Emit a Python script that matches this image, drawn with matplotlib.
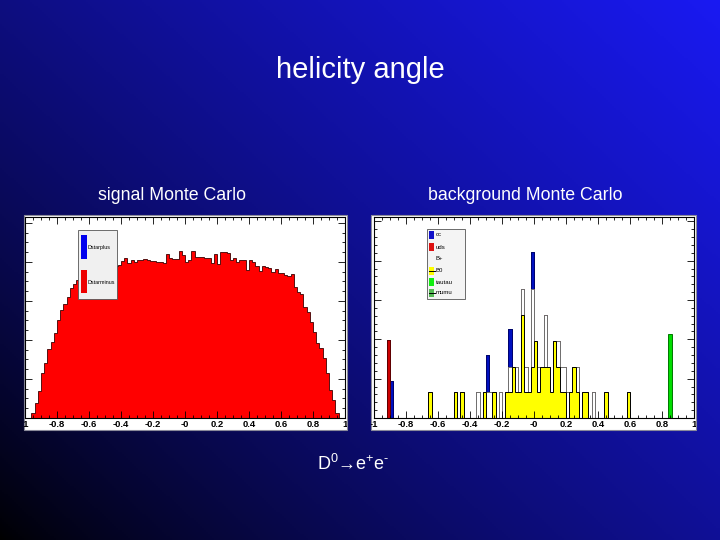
import numpy as np
import matplotlib
matplotlib.use("Agg")
import matplotlib.pyplot as plt
from matplotlib.patches import Rectangle
from matplotlib.lines import Line2D
from matplotlib.ticker import FixedLocator, FixedFormatter, MultipleLocator, NullFormatter
from matplotlib.transforms import Bbox, TransformedBbox

plt.rcParams['font.family'] = ['Liberation Sans', 'DejaVu Sans']
plt.rcParams['mathtext.fontset'] = 'custom'
plt.rcParams['mathtext.rm'] = 'Liberation Sans'
plt.rcParams['mathtext.it'] = 'Liberation Sans:italic'
plt.rcParams['mathtext.bf'] = 'Liberation Sans:bold'

# ---------------- data ----------------
title_text = "helicity angle"
left_title = "signal Monte Carlo"
right_title = "background Monte Carlo"
footer_text = r"D$^{0}$→e$^{+}$e$^{\text{-}}$"

x_ticks = [-1, -0.8, -0.6, -0.4, -0.2, 0, 0.2, 0.4, 0.6, 0.8, 1]
x_tick_labels = ["-1", "-0.8", "-0.6", "-0.4", "-0.2", "-0", "0.2", "0.4", "0.6", "0.8", "1"]

n_bins = 100
angle_range = (-1.0, 1.0)

# signal MC (D*minus), 100 bins of 0.02 from -1 to 1
signal_counts = [
    0, 0, 128, 384, 691, 1152, 1408, 1766, 1946, 2176,
    2509, 2765, 2918, 3098, 3328, 3430, 3533, 3584, 3635, 3686,
    3712, 3763, 3789, 3814, 3840, 3866, 3891, 3891, 3891, 3917,
    4019, 4096, 3968, 4045, 3994, 4045, 4045, 4070, 4045, 4019,
    4019, 3994, 3994, 3968, 4198, 4096, 4070, 4070, 4275, 4173,
    3994, 4045, 4275, 4122, 4122, 4122, 4096, 4096, 3968, 4198,
    3942, 4250, 4250, 4224, 4045, 4096, 3994, 4045, 4045, 3789,
    4045, 3994, 3891, 3763, 3891, 3866, 3840, 3738, 3814, 3712,
    3712, 3661, 3635, 3686, 3354, 3226, 3174, 2842, 2714, 2458,
    2202, 1920, 1792, 1536, 1152, 717, 461, 128, 0, 0]
signal_ymax = 5150

# background MC: bin centres and entries per sample
bg_angle = [-0.91, -0.89, -0.65, -0.49, -0.45, -0.35, -0.31, -0.29, -0.27, -0.25,
            -0.21, -0.17, -0.15, -0.13, -0.11, -0.09, -0.07, -0.05, -0.03, -0.01,
            0.01, 0.03, 0.05, 0.07, 0.09, 0.11, 0.13, 0.15, 0.17, 0.19,
            0.21, 0.23, 0.25, 0.27, 0.31, 0.33, 0.37, 0.45, 0.59, 0.85]
n_b0 = [0, 0, 1, 1, 1, 0, 1, 0, 0, 1,
        0, 1, 1, 2, 1, 1, 4, 1, 1, 2,
        3, 1, 2, 2, 2, 1, 3, 2, 1, 1,
        0, 1, 2, 1, 1, 1, 0, 1, 1, 0]
n_bplus = [0, 0, 0, 0, 0, 1, 0, 1, 1, 0,
           1, 0, 1, 0, 1, 0, 1, 1, 0, 3,
           0, 1, 0, 2, 0, 0, 0, 1, 1, 1,
           1, 0, 0, 1, 0, 0, 1, 0, 0, 0]
n_cc = [0, 1, 0, 0, 0, 0, 0, 1, 0, 0,
        0, 0, 1, 0, 0, 0, 0, 0, 0, 1,
        0, 0, 0, 0, 0, 0, 0, 0, 0, 0,
        0, 0, 0, 0, 0, 0, 0, 0, 0, 0]
n_uds = [1, 0, 0, 0, 0, 0, 0, 0, 0, 0,
         0, 0, 0, 0, 0, 0, 0, 0, 0, 0,
         0, 0, 0, 0, 0, 0, 0, 0, 0, 0,
         0, 0, 0, 0, 0, 0, 0, 0, 0, 0]
n_tautau = [0, 0, 0, 0, 0, 0, 0, 0, 0, 0,
            0, 0, 0, 0, 0, 0, 0, 0, 0, 0,
            0, 0, 0, 0, 0, 0, 0, 0, 0, 0,
            0, 0, 0, 0, 0, 0, 0, 0, 0, 1]
w_b0, w_bplus, w_cc, w_uds, w_tautau = 0.654, 0.654, 0.948, 1.99, 2.14
bg_ymax = 5.11

bg_legend = ["cc", "uds", "B+", "B0", "tautau", "mumu"]
sig_legend = ["Dstarplus", "Dstarminus"]

# ---------------- figure ----------------
W, H = 720, 540
fig = plt.figure(figsize=(7.2, 5.4), dpi=100)

def fx(px):
    return px / W

def fy(py):
    return 1 - py / H

# gradient background
bg_ax = fig.add_axes([0, 0, 1, 1], zorder=-10)
gx, gy = np.meshgrid(np.linspace(0, 1, 360), np.linspace(0, 1, 270))
t = np.clip(0.55 * gx + 0.45 * (1 - gy), 0, 1) ** 0.8
img = np.zeros(gx.shape + (3,))
img[..., 0] = 0.10 * t
img[..., 1] = 0.10 * t
img[..., 2] = 0.95 * t
bg_ax.imshow(img, extent=[0, 1, 0, 1], aspect='auto', origin='upper')
bg_ax.axis('off')

fig.text(fx(360), fy(70), title_text, color='white', fontsize=21, ha='center', va='center')
fig.text(fx(171.5), fy(195), left_title, color='white', fontsize=12.8, ha='center', va='center')
fig.text(fx(525), fy(195), right_title, color='white', fontsize=12.8, ha='center', va='center')
fig.text(fx(353), fy(464), footer_text, color='white', fontsize=13, ha='center', va='center')

edges = np.linspace(angle_range[0], angle_range[1], n_bins + 1)


def make_pad(x0, x1, y0, y1):
    r = Rectangle((fx(x0), fy(y1)), fx(x1) - fx(x0), fy(y0) - fy(y1),
                  transform=fig.transFigure, facecolor='white', edgecolor='#8a8a9a',
                  linewidth=0.8, zorder=-5)
    fig.patches.append(r)
    return TransformedBbox(Bbox.from_extents(fx(x0), fy(y1), fx(x1), fy(y0)), fig.transFigure)


def style_axes(ax, clipbox, ymax, ymajor, yminor):
    ax.set_facecolor('white')
    ax.set_xlim(-1, 1)
    ax.set_ylim(0, ymax)
    ax.xaxis.set_major_locator(FixedLocator(x_ticks))
    ax.xaxis.set_major_formatter(FixedFormatter(x_tick_labels))
    ax.xaxis.set_minor_locator(MultipleLocator(0.05))
    ax.yaxis.set_major_locator(MultipleLocator(ymajor))
    ax.yaxis.set_minor_locator(MultipleLocator(yminor))
    ax.yaxis.set_major_formatter(NullFormatter())
    ax.tick_params(which='both', direction='in', top=True, right=True, color='black',
                   width=0.6)
    ax.tick_params(which='major', length=5)
    ax.tick_params(which='minor', length=2.5)
    ax.tick_params(axis='x', labelsize=6.8, pad=1.3)
    for s in ax.spines.values():
        s.set_linewidth(0.8)
        s.set_color('black')
    for tk in ax.xaxis.get_major_ticks():
        tk.label1.set_fontweight('bold')
        tk.label1.set_clip_box(clipbox)
        tk.label1.set_clip_on(True)


# ---------- left: signal ----------
clip1 = make_pad(24, 347, 215, 430)
ax1 = fig.add_axes([fx(25), fy(418), fx(345) - fx(25), fy(217) - fy(418)])
ax1.stairs(signal_counts, edges, fill=True, facecolor='#ff0000', edgecolor='#3a0000',
           linewidth=0.6)
style_axes(ax1, clip1, signal_ymax, 1000, 250)

def fig_rect(x0, y0, x1, y1, fc, ec='none', lw=0.0, z=5):
    fig.patches.append(Rectangle((fx(x0), fy(y1)), fx(x1) - fx(x0), fy(y0) - fy(y1),
                                 transform=fig.transFigure, facecolor=fc, edgecolor=ec,
                                 linewidth=lw, zorder=z))

# legend (left)
fig_rect(78, 230, 117, 299, '#f0f0f0', '#555555', 0.6, z=5)
fig_rect(80.5, 235, 86.5, 259, '#0000ee', z=6)
fig_rect(80.5, 270, 86.5, 293, '#ee0000', z=6)
fig.text(fx(88), fy(247), sig_legend[0], fontsize=3.9, ha='left', va='center', zorder=7)
fig.text(fx(88), fy(283), sig_legend[1], fontsize=3.9, ha='left', va='center', zorder=7)

# ---------- right: background ----------
clip2 = make_pad(371, 696, 215, 430)
ax2 = fig.add_axes([fx(374), fy(418), fx(694) - fx(374), fy(217) - fy(418)])
components = [
    (n_b0, w_b0, '#ffff00', '#000000'),
    (n_bplus, w_bplus, '#ffffff', '#707070'),
    (n_uds, w_uds, '#cc0000', '#600000'),
    (n_cc, w_cc, '#0010c0', '#000070'),
    (n_tautau, w_tautau, '#00dd00', '#007700'),
]
hists = [np.histogram(bg_angle, bins=edges, weights=np.asarray(n, float) * w)[0]
         for n, w, _, _ in components]
cum = np.cumsum(hists, axis=0)
for k in reversed(range(len(components))):
    ax2.stairs(cum[k], edges, fill=True, facecolor=components[k][2],
               edgecolor=components[k][3], linewidth=0.7)
style_axes(ax2, clip2, bg_ymax, 1, 0.2)

# legend (right)
fig_rect(427, 229, 465, 299, '#f4f4f4', '#555555', 0.6, z=5)
leg_y = [235, 247, 259, 271, 282, 293]
leg_fc = ['#1010c8', '#dd1111', '#f4f4f4', '#ffff00', '#11ee11', '#55bb55']
for yy, lab, fc in zip(leg_y, bg_legend, leg_fc):
    fig_rect(428.5, yy - 4, 434, yy + 4, fc, z=6)
    fig.text(fx(435.5), fy(yy), lab, fontsize=4.3, ha='left', va='center', zorder=7)
for yy in (leg_y[3], leg_y[5]):
    fig.lines.append(Line2D([fx(428.5), fx(434.5)], [fy(yy), fy(yy)], transform=fig.transFigure,
                            color='black', linewidth=0.7, zorder=8))

fig.savefig('out.png', dpi=100)
